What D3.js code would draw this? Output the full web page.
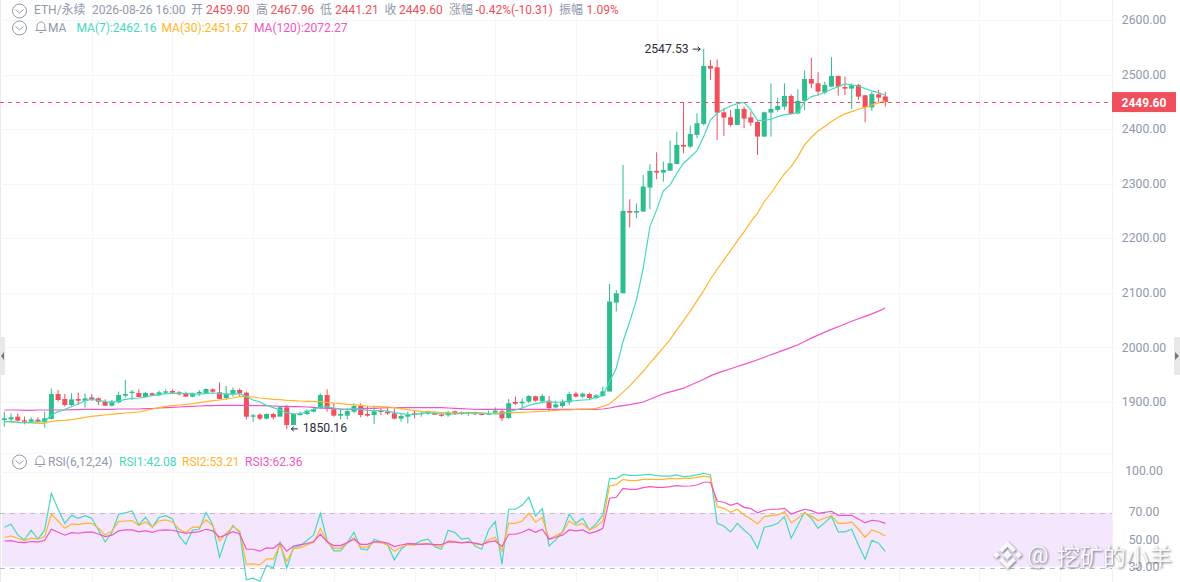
<!DOCTYPE html>
<html><head><meta charset="utf-8">
<script src="https://cdn.jsdelivr.net/npm/d3@7"></script>
<style>html,body{margin:0;padding:0;background:#fff;overflow:hidden}svg{display:block}
text{font-family:Roboto,"Noto Sans CJK SC",sans-serif}</style></head><body>
<svg id="c" width="1180" height="582"></svg>
<script>
const opens=[1867,1868.2,1873.1,1866.4,1864,1867.6,1863.4,1868.9,1914.6,1905.5,
1894.5,1905.5,1902.4,1908.5,1906.7,1900,1893.3,1899.4,1911.6,1916.5,
1916.5,1909.2,1915.9,1912.2,1917.1,1920.1,1917.7,1915.9,1909.8,1915.9,
1915.9,1923.2,1917.7,1907.3,1914.6,1922,1917.1,1873.1,1876.8,1869.5,
1878,1873.1,1890.2,1857.9,1876.2,1878,1882.3,1888.4,1912.8,1886.6,
1875,1875,1882.3,1892.7,1878,1876.2,1884.7,1882.3,1879.2,1869.5,
1873.1,1879.2,1878,1878.6,1880.5,1876.8,1875.6,1882.9,1881.1,1879.2,
1879.8,1878.6,1876.8,1880.5,1882.9,1870.7,1900,1897.6,1900.6,1910.4,
1901.2,1902.4,1890.2,1892.7,1899.4,1915.3,1909.8,1914.6,1907.3,1911,
1919.2,2082.2,2099.3,2250,2247,2248.9,2292.9,2323.5,2320.4,2324,
2336.3,2371.1,2368,2389.4,2409.5,2515.8,2513.3,2430.9,2421.7,2407.7,
2437,2421.7,2413.2,2386.4,2430.3,2435.2,2441.3,2460.8,2429.1,2451.7,
2492,2484,2466.9,2477.9,2497.4,2477.3,2474.2,2481,2462,2440,
2463.9,2459.9];
const highs=[1882.3,1879.2,1879.2,1873.1,1871.9,1871.9,1882.3,1925,1922,1914.6,
1915.9,1917.1,1915.9,1914.6,1908.5,1904.9,1903.7,1918.9,1940.3,1922,
1923.2,1918.9,1917.1,1920.7,1923.2,1923.2,1920.1,1918.9,1917.1,1922,
1925,1925,1936,1929.3,1926.8,1925,1918.9,1878,1879.2,1879.2,
1880.5,1892.7,1894.5,1879.2,1882.3,1886.6,1890.2,1915.9,1923.2,1897.6,
1886.6,1888.4,1897.6,1897.6,1892.7,1892.7,1889.6,1889.6,1888.4,1879.2,
1882.3,1884.1,1882.3,1884.1,1882.3,1880.5,1884.1,1884.1,1882.3,1882.3,
1882.3,1880.5,1884.1,1890.2,1885.3,1905.5,1909.8,1906.7,1912.8,1911.6,
1914.6,1911,1902.4,1904.9,1918.9,1918.9,1917.1,1917.1,1914.6,1928.1,
2116.4,2105.4,2334.4,2271.5,2264,2316.1,2335.7,2357.6,2340.5,2379,
2395.5,2449.2,2406.5,2429,2547.53,2526.8,2528,2438.2,2435.2,2444.3,
2441.3,2432.1,2415.6,2432.1,2484,2457.8,2484,2463.9,2473,2507.2,
2531,2504.2,2487,2531.6,2498,2496.2,2484,2482.8,2462.6,2468.8,
2471.8,2467.96];
const lows=[1854.8,1864,1864,1859.1,1862.1,1862.8,1853,1868.2,1900.6,1891.4,
1892.7,1894.5,1889.6,1901.8,1894.5,1892.7,1891.4,1897.6,1908.5,1903.7,
1908.5,1908.5,1911,1911,1914.6,1914.6,1912.2,1909.8,1908.5,1911,
1914.6,1915.9,1904.9,1903.7,1909.8,1911,1868.2,1864,1867,1868.2,
1868.2,1873.1,1850.16,1857.9,1875,1876.2,1881.1,1888,1882.3,1873.1,
1868.2,1868.2,1879.2,1871.9,1873.1,1859.7,1876.2,1876.2,1868.2,1864,
1860.9,1870.1,1873.1,1876.2,1876.2,1873.1,1873.1,1876.2,1876.2,1874.4,
1876.2,1875.6,1876.2,1877.4,1865.2,1869.5,1894.5,1886.6,1897.6,1900.6,
1897.6,1882.3,1888.4,1889.6,1894.5,1908.5,1907.3,1905.5,1904.9,1909.8,
1919.2,2065.8,2099.3,2219.6,2236.7,2248.9,2253.2,2308.2,2303.9,2323.5,
2335,2355.8,2365,2383.3,2406.5,2490.1,2380.2,2387.6,2404.7,2407.7,
2401.6,2405.9,2352.8,2385.1,2386.4,2432.1,2435.2,2427.2,2427.2,2435.2,
2474.9,2461.4,2463.9,2477.9,2461.4,2462.6,2437,2453.5,2412.6,2433.4,
2449.8,2441.21];
const closes=[1870.1,1871.9,1865.8,1864,1868.2,1864,1870.1,1914.6,1903.7,1894.5,
1904.9,1902.4,1906.7,1904.9,1900.6,1893.3,1900.6,1912.8,1914.6,1918.9,
1909.2,1916.5,1912.2,1917.7,1919.5,1917.1,1914,1909.8,1915.9,1918.3,
1923.8,1918.9,1905.5,1915.3,1922,1915.9,1873.1,1875.6,1869.5,1878,
1871.9,1890.2,1857.9,1878,1879.2,1884.1,1887.2,1912.8,1888.4,1875,
1878,1883.5,1892.7,1876.2,1875,1882.9,1881.7,1879.2,1869.5,1874.4,
1876.2,1877.4,1879.8,1882.3,1876.8,1875,1880.5,1878.6,1879.2,1881.1,
1877.4,1876.8,1879.2,1884.1,1870.1,1897.6,1896.9,1900.6,1911,1902.4,
1911,1889,1895.7,1900.6,1914.6,1909.8,1915.3,1907.3,1912.2,1919.5,
2084.1,2099.3,2250.1,2247,2250,2294.8,2323.5,2320.4,2325.3,2337.5,
2371.1,2368,2391.2,2410.8,2515.8,2510.9,2430.3,2421.1,2407.7,2437,
2419.3,2412,2386.4,2430.9,2437,2442.5,2460.8,2427.9,2451.7,2492,
2483.4,2468.8,2481,2497.4,2477.9,2474.2,2480.4,2459.6,2440,2464.5,
2457.8,2449.6];
const ma7=[1864,1864,1862.8,1862.1,1862.8,1863.4,1864,1876.2,1882.3,1886.6,
1891.4,1896.3,1902.4,1904.9,1903,1900.6,1899.4,1901.8,1904.9,1906.7,
1907.3,1909.2,1911.6,1913.4,1915.3,1915.9,1915.9,1915.3,1914.6,1914.6,
1915.9,1916.5,1915.3,1914.6,1914.6,1915.3,1909.8,1903.7,1900,1893.9,
1889.6,1885.3,1880.5,1878,1878.6,1881.7,1886.6,1890.8,1891.4,1889,
1887.2,1886.6,1887.8,1886.6,1884.7,1884.1,1884.1,1883.5,1880.5,1878.6,
1877.4,1876.8,1879.2,1880.5,1879.2,1878,1878,1878,1879.2,1880.5,
1880.5,1879.8,1878.6,1878,1878,1881.7,1885.3,1889,1893.9,1896.9,
1899.4,1900.6,1899.4,1900,1901.8,1902.4,1903.7,1904.3,1908.9,1911.3,
1937.6,1962,2010.8,2047.4,2087.1,2145.1,2221.4,2252,2286.8,2297.8,
2319.2,2337.5,2348.5,2360.7,2386.3,2416.9,2429,2436.4,2442.5,2446.8,
2449.2,2435.2,2415.6,2416.2,2418.1,2423,2426.6,2427.8,2430.3,2450.4,
2459.6,2462.6,2467.5,2473,2477.9,2482.8,2481,2479.1,2474.2,2470,
2466.9,2462.16];
const ma30=[1864,1863.4,1862.8,1862.1,1861.5,1860.9,1860.9,1864.6,1865.8,1866.4,
1867.6,1869.5,1871.9,1873.7,1875,1876.2,1877.4,1878.6,1879.8,1880.5,
1881.7,1884.1,1887.2,1889.6,1892.1,1893.3,1894.5,1895.7,1896.9,1898.8,
1900.6,1902.4,1903.7,1905.5,1907.3,1909.8,1910.4,1909.2,1907.3,1906.1,
1904.9,1904.3,1903,1902.4,1901.8,1901.2,1901.2,1900.6,1899.4,1898.2,
1896.9,1895.7,1895.1,1893.9,1892.7,1892.1,1891.4,1890.8,1889.6,1887.8,
1885.9,1884.1,1882.9,1882.3,1881.7,1880.5,1880.5,1879.8,1879.2,1879.2,
1879.2,1879.2,1879.2,1879.2,1879.8,1880.5,1880.5,1881.1,1881.7,1882.3,
1882.9,1883.5,1884.7,1885.3,1885.3,1886.6,1887.2,1887.2,1888.4,1892.1,
1896.9,1907,1918,1929.6,1943,1955.9,1971.1,1985.2,1999.8,2014.5,
2032.2,2049.3,2066.4,2085.3,2104.2,2125,2143.3,2160.4,2177.5,2195.2,
2211.7,2230,2245.9,2267.3,2282.5,2300.9,2318,2331.4,2349.7,2371.1,
2385.1,2396.7,2404.7,2413.8,2421.7,2427.9,2432.1,2436.4,2440,2444.3,
2448,2451.67];
const ma120=[1885.3,1885.3,1885.3,1884.7,1884.7,1885.3,1885.3,1885.3,1885.3,1885.3,
1885.9,1885.9,1886.6,1886.6,1886.6,1886.6,1886.6,1887.2,1887.2,1887.2,
1887.2,1887.8,1887.8,1889,1889.6,1890.2,1890.8,1891.4,1892.1,1892.7,
1893.3,1893.3,1893.9,1893.9,1893.9,1893.9,1893.9,1893.3,1893.3,1893.3,
1892.7,1892.1,1892.1,1891.4,1891.4,1890.8,1890.2,1889,1888.4,1887.8,
1887.2,1886.6,1886.6,1887.8,1888.4,1888.4,1889,1889.6,1889.6,1889.6,
1889.6,1889.6,1889.6,1889.6,1889.6,1889.6,1889,1888.4,1887.8,1887.2,
1886.6,1886.6,1886.6,1886.6,1886.6,1886.6,1886.6,1886.6,1886.6,1886.6,
1886.6,1886.6,1886.6,1886.6,1886.6,1886.6,1886.6,1886.6,1886.6,1887.2,
1889,1891.4,1893.3,1895.1,1897.6,1900,1905,1910,1915,1918.6,
1921.7,1925.3,1930.8,1936.3,1941.8,1947.9,1952.8,1957,1961,1965,
1969,1973,1977.5,1982,1986.5,1991,1995.5,2000,2005,2011,
2017,2022.5,2028,2033,2038,2043,2048,2052.5,2057,2061.5,
2066.5,2072.27];
const rsi1=[59.6,61.7,54,50.4,57.4,50.9,57.6,84.2,72.6,62.4,
68.2,66.1,68,66.1,57.6,48.9,55.7,69,70,71.4,
61.2,66.8,59.6,66.6,68,65.6,53.3,47.2,57.6,58.1,
70.4,61.2,37.8,52.1,60.8,55.7,21.4,22.6,20.4,31.8,
30.1,48.4,29.8,45.1,46,49.9,54,69.7,49.9,42.4,
42.4,48.4,55.9,43.9,43.1,50.9,48.9,46.7,35.9,43.6,
47.5,47.2,49.9,50.9,45.5,43.6,57.4,55.7,50.9,51.6,
46,43.6,57.6,63.7,32.7,72.6,72.6,75.5,81.3,67.8,
73.1,46,50.4,56.4,69,62.4,66.1,57.6,62,68.5,
94.8,94.8,97.9,97.2,97.2,97.5,97.9,97,96.7,96.7,
97.5,96.3,96.7,97.5,98.7,97.5,62.4,60.5,56.2,62.4,
57.6,53.3,44.3,59.6,60.5,62.4,67.3,51.6,61.2,70.4,
66.1,58.8,62.9,67.3,56.2,56.2,58.1,46.7,36.4,50.1,
48,42.08];
const rsi2=[52.1,53.3,51.6,49.9,51.6,50.9,52.8,69,64.1,58.8,
62,61.5,62.4,62.4,58.8,54,56.9,63.7,64.1,64.4,
60.8,63.4,60,64.1,64.9,63.4,58.1,55.7,59.6,59.6,
64.9,60.5,49.6,55.2,60,56.9,32.7,33,32.3,36.6,
36.6,46.7,34.7,44.1,44.6,46.7,48.7,58.6,49.2,44.3,
44.3,48.4,52.1,45.1,45.1,48.9,48.4,46.7,42.2,45.1,
47,46.5,47.5,47.7,46.3,45.5,49.9,49.2,48.4,48.9,
47.5,46.7,50.4,52.3,42.4,62.4,62.4,64.1,69.7,63.2,
66.6,50.9,53.5,55.7,64.1,61,62.4,57.6,60,63.9,
89.5,90.5,94.3,93.4,93.4,94.3,94.3,94.3,94.3,95,
94.6,95,95,95.8,96.7,95.8,74.5,73.3,70.4,72.6,
68.5,65.6,62,67.3,68,68.5,70.9,62.9,66.1,69.7,
67.8,64.4,66.1,68,62.4,62.4,63.4,58.1,52.3,57.6,
55.9,53.21];
const rsi3=[49.6,49.9,48.7,48.4,49.2,48.9,49.9,58.1,55.9,53.8,
55.7,55.2,55.9,56.2,54.7,52.8,53.8,56.9,57.6,57.6,
56.2,57.1,55.9,57.4,57.6,57.4,56.2,55.2,55.9,56.4,
58.1,56.9,52.3,54.2,56.4,54.7,43.6,43.6,42.2,44.6,
44.3,48,42.2,46,47,47.7,49.2,54.5,48.9,46.3,
46.3,48.4,50.9,47.2,47.2,48.9,48.9,48,45.5,46.7,
47.7,47.5,47.2,47.5,47,47,48.9,48.7,48.2,48.7,
48,47,48.9,49.6,45.5,54.5,54.5,55.9,58.1,55.9,
58.1,50.9,52.3,53.8,57.6,56.9,57.6,55.2,56.4,58.8,
80.6,81.3,87.8,87.1,87.1,88.3,89,88.5,88.5,89,
89.7,89.3,89.5,90.2,92.2,92.2,78.6,77.7,75.5,77,
74,73.1,70,71.9,72.6,72.6,73.3,69.2,70.9,72.6,
71.6,69.7,70.4,71.1,68.2,68.2,68.2,65.6,62.7,64.6,
64.1,62.36];
const priceTicks=[2600,2500,2400,2300,2200,2100,2000,1900];
const rsiTicks=[100,70,50,30];
const gridIndex=[13,25,37,49,61,73,85,97,109,121,133,145,157];
const lastPrice=2449.60, highPoint=2547.53, lowPoint=1850.16;

const GREEN="#2ebd8e",RED="#f04f5c",C1="#47d9bd",C2="#ffb62e",C3="#f055c4",GRID="#f6f6f8",TXT="#8f99ab";
const svg=d3.select("#c");
const n=opens.length;
const x=d3.scaleLinear().domain([0,n-1]).range([4.3,885.3]);
const y=d3.scaleLinear().domain([1900,2600]).range([402,20]);
const ry=d3.scaleLinear().domain([30,100]).range([568,471.5]);
const idx=d3.range(n);

// vertical grid
svg.append("g").selectAll("line").data(gridIndex).join("line")
 .attr("x1",d=>Math.round(x(d))+.5).attr("x2",d=>Math.round(x(d))+.5)
 .attr("y1",0).attr("y2",582).attr("stroke",GRID);
svg.append("line").attr("x1",1112.5).attr("x2",1112.5).attr("y1",0).attr("y2",582).attr("stroke","#f1f1f3");
svg.append("line").attr("x1",.5).attr("x2",.5).attr("y1",0).attr("y2",582).attr("stroke","#e9e9ec");
svg.append("line").attr("x1",0).attr("x2",1112).attr("y1",453.5).attr("y2",453.5).attr("stroke",GRID);

// price axis
const ax=d3.axisRight(y).tickValues(priceTicks).tickFormat(d3.format(".2f")).tickSize(5).tickPadding(27);
const gA=svg.append("g").attr("transform","translate(1112,0)").call(ax);
const rax=d3.axisRight(ry).tickValues(rsiTicks).tickFormat(d3.format(".2f")).tickSize(5).tickPadding(27);
const gR=svg.append("g").attr("transform","translate(1112,0)").call(rax);
[gA,gR].forEach((g,k)=>{g.select(".domain").remove();
 g.selectAll("line").attr("stroke",GRID);
 g.selectAll("text").attr("text-anchor","middle").attr("fill",TXT).attr("font-size",12.2).attr("dy",k?"0.22em":"0.3em");});
// horizontal grid
svg.append("g").selectAll("line").data(priceTicks).join("line")
 .attr("x1",0).attr("x2",1112).attr("y1",d=>Math.round(y(d))+.5).attr("y2",d=>Math.round(y(d))+.5).attr("stroke",GRID);
svg.append("g").selectAll("line").data([100,50]).join("line")
 .attr("x1",0).attr("x2",1112).attr("y1",d=>Math.round(ry(d))+.5).attr("y2",d=>Math.round(ry(d))+.5).attr("stroke",GRID);

// RSI band
svg.append("rect").attr("x",2).attr("width",1110).attr("y",ry(70)).attr("height",ry(30)-ry(70)-1.3).attr("fill","#f3e6fd");
svg.append("g").selectAll("line").data([70,30]).join("line")
 .attr("x1",0).attr("x2",1112).attr("y1",d=>Math.round(ry(d))+.5).attr("y2",d=>Math.round(ry(d))+.5)
 .attr("stroke","#bcbcc0").attr("stroke-dasharray","5,5");

// candles
const cg=svg.append("g");
const col=i=>closes[i]>=opens[i]?GREEN:RED;
cg.selectAll("line").data(idx).join("line")
 .attr("x1",i=>x(i)).attr("x2",i=>x(i)).attr("y1",i=>y(highs[i])).attr("y2",i=>y(lows[i]))
 .attr("stroke",col).attr("stroke-width",1);
cg.selectAll("rect").data(idx).join("rect")
 .attr("x",i=>x(i)-2.5).attr("width",5)
 .attr("y",i=>y(Math.max(opens[i],closes[i])))
 .attr("height",i=>Math.max(1.2,Math.abs(y(opens[i])-y(closes[i]))))
 .attr("fill",col);

// MA lines
const lineP=d3.line().x((d,i)=>x(i)).y(d=>y(d));
[[ma120,C3],[ma30,C2],[ma7,C1]].forEach(([s,c])=>svg.append("path").datum(s).attr("d",lineP).attr("fill","none").attr("stroke",c).attr("stroke-width",1.2));
// RSI lines
const lineR=d3.line().x((d,i)=>x(i)).y(d=>ry(d));
[[rsi1,C1],[rsi2,C2],[rsi3,C3]].forEach(([s,c])=>svg.append("path").datum(s).attr("d",lineR).attr("fill","none").attr("stroke",c).attr("stroke-width",1.2));

// last price line and tag
svg.append("line").attr("x1",0).attr("x2",1112).attr("y1",Math.round(y(lastPrice))+.5).attr("y2",Math.round(y(lastPrice))+.5)
 .attr("stroke",RED).attr("stroke-dasharray","4,4");
svg.append("rect").attr("x",1112).attr("y",y(lastPrice)-10).attr("width",64).attr("height",20).attr("fill",RED);
svg.append("text").attr("x",1144).attr("y",y(lastPrice)+4.5).attr("text-anchor","middle").attr("fill","#fff")
 .attr("font-size",12).attr("font-weight",700).text(d3.format(".2f")(lastPrice));

// extreme labels
const iHigh=highs.indexOf(highPoint), iLow=lows.indexOf(lowPoint);
function arrow(x1,x2,yy){
 const d=x2>x1?-1:1;
 svg.append("path").attr("d",`M${x1},${yy}H${x2}M${x2+d*2.5},${yy-2.2}L${x2},${yy}L${x2+d*2.5},${yy+2.2}`)
  .attr("fill","none").attr("stroke","#1f2533").attr("stroke-width",1);
}
svg.append("text").attr("x",x(iHigh)-15).attr("y",y(highPoint)+4).attr("text-anchor","end")
 .attr("fill","#2a2e39").attr("font-size",12.2).text(highPoint.toFixed(2));
arrow(x(iHigh)-11,x(iHigh)-3.5,y(highPoint)+.5);
svg.append("text").attr("x",x(iLow)+16).attr("y",y(lowPoint)+2.8).attr("fill","#2a2e39").attr("font-size",12.2).text(lowPoint.toFixed(2));
arrow(x(iLow)+11,x(iLow)+4.5,y(lowPoint)-.3);

// legend text
function t(xx,yy,s,c){svg.append("text").attr("x",xx).attr("y",yy).attr("fill",c).attr("font-size",12).text(s);}
function circ(cy){svg.append("circle").attr("cx",19.5).attr("cy",cy).attr("r",7).attr("fill","#fff").attr("stroke","#8f99ab");
 svg.append("path").attr("d",`M15.5,${cy-1.5}L19.5,${cy+2}L23.5,${cy-1.5}`).attr("fill","none").attr("stroke","#8f99ab");}
function bell(cx,cy){svg.append("path").attr("d",`M${cx-5.5},${cy+3.5}h11M${cx-4},${cy+3.5}v-4a4,4.5 0 0 1 8,0v4M${cx-1.5},${cy+5.5}h3`)
 .attr("fill","none").attr("stroke","#8f99ab");}
circ(11);circ(28);circ(462);bell(41,27);bell(40,461);
t(34,14,"ETH/永续",TXT);t(92,14,"2026-08-26 16:00",TXT);
t(191,14,"开",TXT);t(206,14,"2459.90",RED);
t(256,14,"高",TXT);t(270.5,14,"2467.96",RED);
t(320,14,"低",TXT);t(335,14,"2441.21",RED);
t(384.5,14,"收",TXT);t(399,14,"2449.60",RED);
t(449,14,"涨幅",TXT);t(475.5,14,"-0.42%(-10.31)",RED);
t(559,14,"振幅",TXT);t(586.5,14,"1.09%",RED);
t(48,32,"MA",TXT);t(76.5,32,"MA(7):2462.16",C1);t(161.5,32,"MA(30):2451.67",C2);t(254,32,"MA(120):2072.27",C3);
t(48,466,"RSI(6,12,24)",TXT);t(119,466,"RSI1:42.08",C1);t(182,466,"RSI2:53.21",C2);t(245,466,"RSI3:62.36",C3);

// side tabs
svg.append("rect").attr("x",0).attr("y",337).attr("width",5).attr("height",38).attr("fill","#e8e8e8");
svg.append("path").attr("d","M4,352v8l-3,-4z").attr("fill","#777");
svg.append("rect").attr("x",1174).attr("y",337).attr("width",6).attr("height",38).attr("fill","#e8e8e8");
svg.append("path").attr("d","M1175,352v8l4,-4z").attr("fill","#777");

// watermark
const wm=svg.append("g").style("filter","drop-shadow(1px 1px 1px rgba(70,70,80,.75))");
const lg=wm.append("g").attr("transform","translate(1007.5,555)").attr("fill","rgba(255,255,255,.92)");
lg.append("path").attr("d","M0,-4.5L4.5,0L0,4.5L-4.5,0Z");
lg.append("path").attr("d","M-11,-3.5L-7.5,0L-11,3.5L-14.5,0Z");
lg.append("path").attr("d","M11,-3.5L14.5,0L11,3.5L7.5,0Z");
lg.append("path").attr("d","M0,-14L8.5,-5.5L5.5,-2.5L0,-8L-5.5,-2.5L-8.5,-5.5Z");
lg.append("path").attr("d","M0,14L8.5,5.5L5.5,2.5L0,8L-5.5,2.5L-8.5,5.5Z");
wm.append("text").attr("x",1027).attr("y",563).attr("font-size",24).attr("fill","rgba(255,255,255,.92)").text("@");
wm.append("text").attr("x",1057).attr("y",565).attr("font-size",23).attr("fill","rgba(255,255,255,.92)").text("挖矿的小羊");
</script></body></html>
